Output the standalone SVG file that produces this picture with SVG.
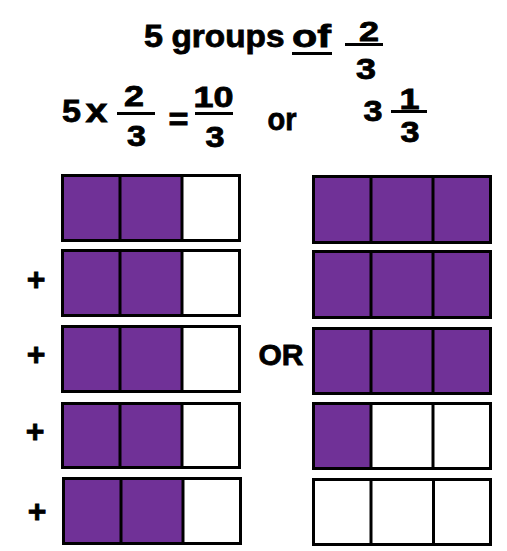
<svg xmlns="http://www.w3.org/2000/svg" width="507" height="551" viewBox="0 0 507 551">
<style>
text{font-family:"Liberation Sans",Arial,sans-serif;font-weight:bold;fill:#000;stroke:#000;stroke-width:0.8;text-anchor:middle}
.p{fill:#703197}
.w{fill:#fff}
.b{fill:none;stroke:#000;stroke-width:3}
.d{stroke:#000;stroke-width:3}
.bar{stroke:#000;stroke-width:3}
</style>
<rect width="507" height="551" fill="#fff"/>
<g id="title">
<text x="153.5" y="47" font-size="32" textLength="19" lengthAdjust="spacingAndGlyphs">5</text>
<text x="228" y="47" font-size="32" textLength="113" lengthAdjust="spacingAndGlyphs">groups</text>
<text x="311.5" y="47" font-size="32" textLength="39" lengthAdjust="spacingAndGlyphs">of</text>
<line class="bar" x1="292" y1="53.5" x2="332" y2="53.5"/>
<text x="369" y="41" font-size="28" textLength="20" lengthAdjust="spacingAndGlyphs">2</text>
<line class="bar" x1="345" y1="44.5" x2="383" y2="44.5"/>
<text x="366" y="79" font-size="30" textLength="20" lengthAdjust="spacingAndGlyphs">3</text>
</g>
<g id="equation">
<text x="71.5" y="122" font-size="32" textLength="19" lengthAdjust="spacingAndGlyphs">5</text>
<text x="96.5" y="122" font-size="34" textLength="22" lengthAdjust="spacingAndGlyphs">x</text>
<text x="134" y="106" font-size="29" textLength="20" lengthAdjust="spacingAndGlyphs">2</text>
<line class="bar" x1="117" y1="113.5" x2="155" y2="113.5"/>
<text x="136.5" y="146" font-size="29" textLength="19" lengthAdjust="spacingAndGlyphs">3</text>
<text x="178.5" y="130" font-size="31" textLength="20" lengthAdjust="spacingAndGlyphs">=</text>
<text x="213.5" y="107" font-size="29" textLength="40" lengthAdjust="spacingAndGlyphs">10</text>
<line class="bar" x1="195" y1="113.5" x2="233" y2="113.5"/>
<text x="215" y="147" font-size="29" textLength="19" lengthAdjust="spacingAndGlyphs">3</text>
<text x="282" y="130" font-size="32" textLength="29" lengthAdjust="spacingAndGlyphs">or</text>
<text x="373" y="121" font-size="30" textLength="19" lengthAdjust="spacingAndGlyphs">3</text>
<text x="409.5" y="109" font-size="29" textLength="20" lengthAdjust="spacingAndGlyphs">1</text>
<line class="bar" x1="391" y1="111.5" x2="427" y2="111.5"/>
<text x="410" y="142" font-size="29" textLength="19" lengthAdjust="spacingAndGlyphs">3</text>
</g>
<g id="plus-signs">
<text x="36" y="290" font-size="32">+</text>
<text x="36" y="365" font-size="32">+</text>
<text x="35" y="442" font-size="32">+</text>
<text x="37" y="522" font-size="32">+</text>
</g>
<g id="or-label">
<text x="281" y="365" font-size="30">OR</text>
</g>
<g id="left-1">
<rect class="p" x="62.5" y="175.5" width="57.5" height="65"/>
<rect class="p" x="120" y="175.5" width="62" height="65"/>
<rect class="w" x="182" y="175.5" width="57.5" height="65"/>
<line class="d" x1="120" y1="175.5" x2="120" y2="240.5"/>
<line class="d" x1="182" y1="175.5" x2="182" y2="240.5"/>
<rect class="b" x="62.5" y="175.5" width="177" height="65"/>
</g>
<g id="left-2">
<rect class="p" x="62.5" y="250.5" width="57.5" height="65"/>
<rect class="p" x="120" y="250.5" width="62" height="65"/>
<rect class="w" x="182" y="250.5" width="57.5" height="65"/>
<line class="d" x1="120" y1="250.5" x2="120" y2="315.5"/>
<line class="d" x1="182" y1="250.5" x2="182" y2="315.5"/>
<rect class="b" x="62.5" y="250.5" width="177" height="65"/>
</g>
<g id="left-3">
<rect class="p" x="62.5" y="326.5" width="57.5" height="65"/>
<rect class="p" x="120" y="326.5" width="62" height="65"/>
<rect class="w" x="182" y="326.5" width="57.5" height="65"/>
<line class="d" x1="120" y1="326.5" x2="120" y2="391.5"/>
<line class="d" x1="182" y1="326.5" x2="182" y2="391.5"/>
<rect class="b" x="62.5" y="326.5" width="177" height="65"/>
</g>
<g id="left-4">
<rect class="p" x="62.5" y="403.5" width="57.5" height="64"/>
<rect class="p" x="120" y="403.5" width="62" height="64"/>
<rect class="w" x="182" y="403.5" width="57.5" height="64"/>
<line class="d" x1="120" y1="403.5" x2="120" y2="467.5"/>
<line class="d" x1="182" y1="403.5" x2="182" y2="467.5"/>
<rect class="b" x="62.5" y="403.5" width="177" height="64"/>
</g>
<g id="left-5">
<rect class="p" x="63.5" y="478.5" width="57.5" height="65"/>
<rect class="p" x="121" y="478.5" width="62" height="65"/>
<rect class="w" x="183" y="478.5" width="57.5" height="65"/>
<line class="d" x1="121" y1="478.5" x2="121" y2="543.5"/>
<line class="d" x1="183" y1="478.5" x2="183" y2="543.5"/>
<rect class="b" x="63.5" y="478.5" width="177" height="65"/>
</g>
<g id="right-1">
<rect class="p" x="313.5" y="176.5" width="177" height="66"/>
<line class="d" x1="371" y1="176.5" x2="371" y2="242.5"/>
<line class="d" x1="433" y1="176.5" x2="433" y2="242.5"/>
<rect class="b" x="313.5" y="176.5" width="177" height="66"/>
</g>
<g id="right-2">
<rect class="p" x="313.5" y="251.5" width="177" height="66"/>
<line class="d" x1="371" y1="251.5" x2="371" y2="317.5"/>
<line class="d" x1="433" y1="251.5" x2="433" y2="317.5"/>
<rect class="b" x="313.5" y="251.5" width="177" height="66"/>
</g>
<g id="right-3">
<rect class="p" x="313.5" y="328.5" width="177" height="65"/>
<line class="d" x1="371" y1="328.5" x2="371" y2="393.5"/>
<line class="d" x1="433" y1="328.5" x2="433" y2="393.5"/>
<rect class="b" x="313.5" y="328.5" width="177" height="65"/>
</g>
<g id="right-4">
<rect class="p" x="313.5" y="403.5" width="57.5" height="65"/>
<rect class="w" x="371" y="403.5" width="119.5" height="65"/>
<line class="d" x1="371" y1="403.5" x2="371" y2="468.5"/>
<line class="d" x1="433" y1="403.5" x2="433" y2="468.5"/>
<rect class="b" x="313.5" y="403.5" width="177" height="65"/>
</g>
<g id="right-5">
<rect class="w" x="313.5" y="479.5" width="177" height="65"/>
<line class="d" x1="371" y1="479.5" x2="371" y2="544.5"/>
<line class="d" x1="433.5" y1="479.5" x2="433.5" y2="544.5"/>
<rect class="b" x="313.5" y="479.5" width="177" height="65"/>
</g>
<g id="connectors"/>
</svg>
